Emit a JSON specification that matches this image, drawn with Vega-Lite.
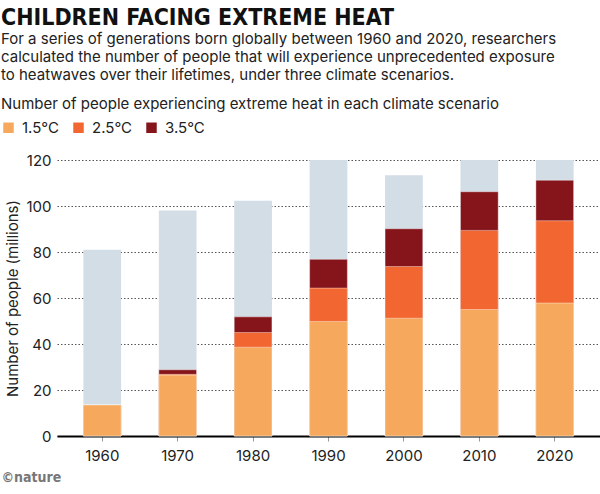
{
  "$schema": "https://vega.github.io/schema/vega-lite/v6.json",
  "width": 543,
  "height": 276,
  "padding": {"left": 1, "top": 7, "right": 0, "bottom": 0},
  "background": "white",
  "config": {
    "view": {"stroke": null},
    "font": "Inter",
    "axis": {"labelFont": "Inter", "titleFont": "Inter"},
    "legend": {"labelFont": "Inter", "titleFont": "Inter"}
  },
  "title": {
    "text": "CHILDREN FACING EXTREME HEAT",
    "subtitle": [
      "For a series of generations born globally between 1960 and 2020, researchers",
      "calculated the number of people that will experience unprecedented exposure",
      "to heatwaves over their lifetimes, under three climate scenarios."
    ],
    "anchor": "start",
    "frame": "bounds",
    "font": "DejaVu Sans Condensed",
    "fontSize": 23,
    "fontWeight": "bold",
    "color": "#111111",
    "subtitleFont": "Inter",
    "subtitleFontSize": 15,
    "subtitleColor": "#222222",
    "subtitleLineHeight": 18,
    "subtitlePadding": 2,
    "offset": 14
  },
  "datasets": {
    "cohort": [
      {"year": "1960", "people": 81},
      {"year": "1970", "people": 98},
      {"year": "1980", "people": 102.3},
      {"year": "1990", "people": 120},
      {"year": "2000", "people": 113.4},
      {"year": "2010", "people": 120},
      {"year": "2020", "people": 120}
    ],
    "exposed": [
      {"year": "1960", "scenario": "3.5°C", "people": 13.5},
      {"year": "1970", "scenario": "3.5°C", "people": 28.8},
      {"year": "1980", "scenario": "3.5°C", "people": 51.8},
      {"year": "1990", "scenario": "3.5°C", "people": 76.8},
      {"year": "2000", "scenario": "3.5°C", "people": 90.1},
      {"year": "2010", "scenario": "3.5°C", "people": 106.2},
      {"year": "2020", "scenario": "3.5°C", "people": 111.2},
      {"year": "1960", "scenario": "2.5°C", "people": 13.5},
      {"year": "1970", "scenario": "2.5°C", "people": 26.8},
      {"year": "1980", "scenario": "2.5°C", "people": 45},
      {"year": "1990", "scenario": "2.5°C", "people": 64.3},
      {"year": "2000", "scenario": "2.5°C", "people": 73.7},
      {"year": "2010", "scenario": "2.5°C", "people": 89.4},
      {"year": "2020", "scenario": "2.5°C", "people": 93.6},
      {"year": "1960", "scenario": "1.5°C", "people": 13.5},
      {"year": "1970", "scenario": "1.5°C", "people": 26.5},
      {"year": "1980", "scenario": "1.5°C", "people": 38.6},
      {"year": "1990", "scenario": "1.5°C", "people": 49.8},
      {"year": "2000", "scenario": "1.5°C", "people": 51.2},
      {"year": "2010", "scenario": "1.5°C", "people": 55},
      {"year": "2020", "scenario": "1.5°C", "people": 57.8}
    ]
  },
  "encoding": {
    "x": {
      "field": "year",
      "type": "nominal",
      "scale": {"paddingInner": 0.5, "paddingOuter": 0.35},
      "axis": {
        "labelAngle": 0,
        "labelFontSize": 15,
        "labelColor": "#222222",
        "labelPadding": 7,
        "domainColor": "#000000",
        "domainWidth": 2,
        "tickColor": "#999999",
        "tickSize": 5,
        "grid": false,
        "title": "©nature",
        "titleFont": "DejaVu Sans Condensed",
        "titleFontWeight": "bold",
        "titleFontSize": 14,
        "titleColor": "#777777",
        "titleAnchor": "start",
        "titleAlign": "left",
        "titleX": -56,
        "titlePadding": 7
      }
    },
    "y": {
      "field": "people",
      "type": "quantitative",
      "scale": {"domain": [0, 120], "nice": false},
      "axis": {
        "title": "Number of people (millions)",
        "titleFontSize": 15,
        "titleFontWeight": "normal",
        "titleColor": "#222222",
        "titlePadding": 5,
        "values": [0, 20, 40, 60, 80, 100, 120],
        "labelFontSize": 15,
        "labelColor": "#222222",
        "labelPadding": 6,
        "domain": false,
        "ticks": false,
        "grid": true,
        "gridColor": "#555555",
        "gridDash": [1.5, 2],
        "gridWidth": 1
      }
    }
  },
  "layer": [
    {
      "data": {"name": "cohort"},
      "mark": {"type": "bar", "color": "#d3dde6"}
    },
    {
      "data": {"name": "exposed"},
      "mark": {"type": "bar", "stroke": "#ffffff", "strokeWidth": 0.8, "strokeOpacity": 0.5},
      "encoding": {
        "y": {"field": "people", "type": "quantitative", "stack": null},
        "color": {
          "field": "scenario",
          "type": "nominal",
          "scale": {"domain": ["1.5°C", "2.5°C", "3.5°C"], "range": ["#f6a95c", "#f26631", "#85151a"]},
          "legend": {
            "title": "Number of people experiencing extreme heat in each climate scenario",
            "orient": "none",
            "direction": "horizontal",
            "legendX": -56,
            "legendY": -63,
            "titleFontSize": 15,
            "titleFontWeight": "normal",
            "titleColor": "#222222",
            "titlePadding": 8,
            "labelFontSize": 15,
            "labelColor": "#222222",
            "symbolType": "square",
            "symbolSize": 110,
            "symbolStrokeWidth": 0,
            "labelOffset": 6,
            "columnPadding": 12,
            "titleLimit": 600
          }
        }
      }
    }
  ]
}
